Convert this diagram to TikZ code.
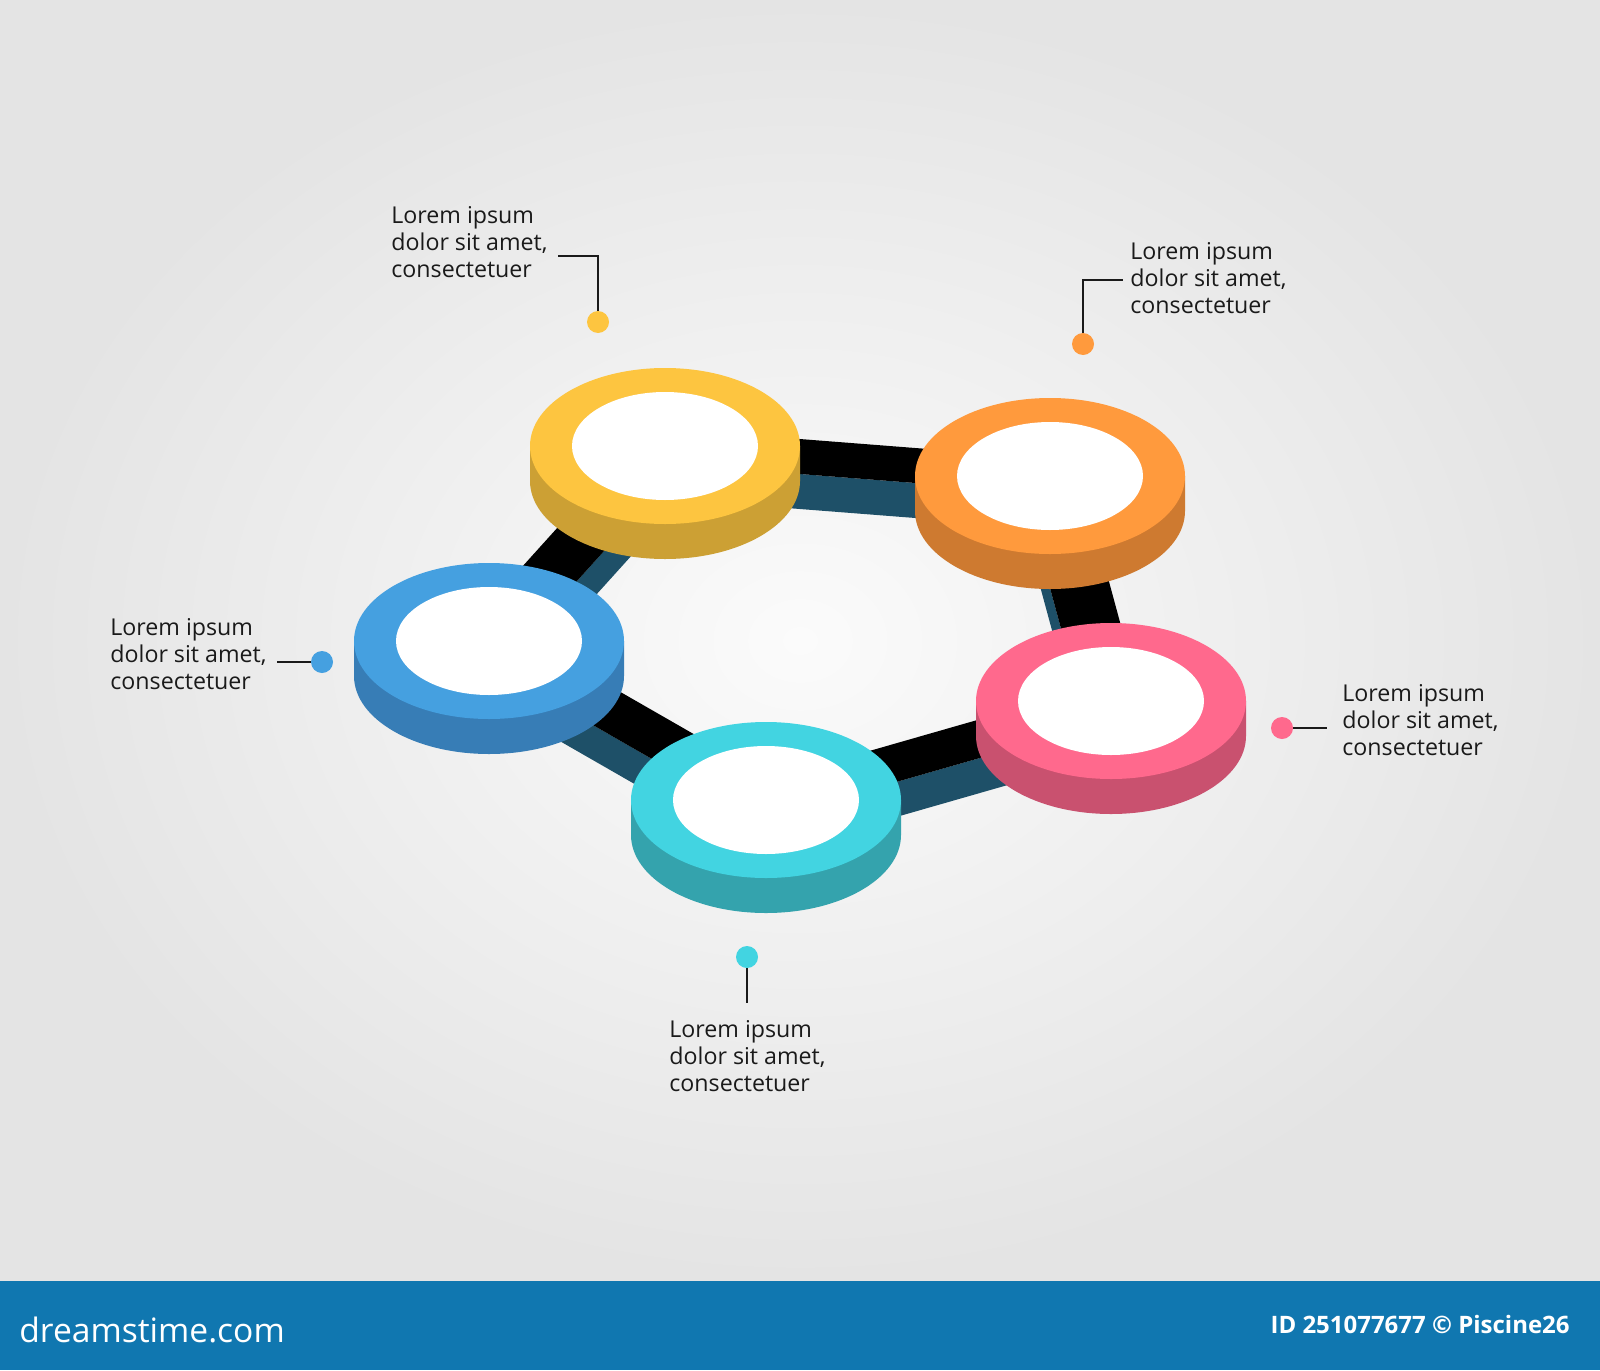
\documentclass[tikz,border=0pt]{standalone}
\usepackage{fontspec}
\setmainfont{Open Sans}
\usetikzlibrary{calc}
\definecolor{bgcenter}{RGB}{251,251,251}
\definecolor{bgedge}{RGB}{228,228,228}
\definecolor{bannerblue}{RGB}{16,119,176}
\definecolor{yellowtop}{RGB}{253,197,64}
\definecolor{yellowside}{RGB}{204,160,52}
\definecolor{orangetop}{RGB}{255,154,61}
\definecolor{orangeside}{RGB}{206,122,48}
\definecolor{pinktop}{RGB}{255,105,141}
\definecolor{pinkside}{RGB}{201,81,111}
\definecolor{cyantop}{RGB}{66,212,225}
\definecolor{cyanside}{RGB}{52,163,173}
\definecolor{bluetop}{RGB}{69,160,224}
\definecolor{blueside}{RGB}{55,125,182}
\definecolor{barside}{RGB}{30,80,104}
\definecolor{inktext}{RGB}{26,26,26}
% disc with side wall: centre, top colour, side colour
\newcommand{\puck}[3]{%
  \fill[#3] ([xshift=-67.5pt]#1) -- ([xshift=-67.5pt,yshift=-17.5pt]#1)
    arc[start angle=180, end angle=360, x radius=67.5pt, y radius=39pt]
    -- ([xshift=67.5pt]#1) -- cycle;
  \fill[#2] (#1) ellipse [x radius=67.5pt, y radius=39pt];
  \fill[white] (#1) ellipse [x radius=46.5pt, y radius=27pt];
}
% flat bar between two discs, front side on the right of #1 -> #2
\newcommand{\linkbar}[2]{%
  \path let \p1=(#1), \p2=(#2),
    \n1={veclen(\x2-\x1,(\y2-\y1)/0.578)},
    \p3=({(\y2-\y1)/0.578/\n1*15pt},{-(\x2-\x1)/\n1*15pt*0.578})
    in (\x1+\x3,\y1+\y3) coordinate (#1#2fa)
       (\x2+\x3,\y2+\y3) coordinate (#1#2fb)
       (\x1-\x3,\y1-\y3) coordinate (#1#2ba)
       (\x2-\x3,\y2-\y3) coordinate (#1#2bb);
  \fill[barside] (#1#2fa) -- (#1#2fb) -- ([yshift=-17.5pt]#1#2fb) -- ([yshift=-17.5pt]#1#2fa) -- cycle;
  \fill[black] (#1#2fa) -- (#1#2fb) -- (#1#2bb) -- (#1#2ba) -- cycle;
}

\begin{document}
\begin{tikzpicture}[
    x=0.5pt, y=-0.5pt,
    note/.style={anchor=west, align=left, inner sep=0, text=inktext, font=\fontsize{11.6}{13.6}\selectfont},
    tagdot/.style={circle, inner sep=0, minimum size=11pt},
    leader/.style={line width=1pt, inktext}
]
    \useasboundingbox (0,0) rectangle (1600,1370);
    % Background
    \shade[inner color=bgcenter, outer color=bgedge] (0,0) rectangle (1600,1281);

    % Disc centres
    \coordinate (yel) at (665,446);
    \coordinate (ora) at (1050,476);
    \coordinate (pnk) at (1111,701);
    \coordinate (cyn) at (766,800);
    \coordinate (blu) at (489,641);

    % Bars
    \linkbar{yel}{ora}
    \linkbar{ora}{pnk}
    \linkbar{cyn}{pnk}
    \linkbar{blu}{cyn}
    \linkbar{blu}{yel}

    % Discs
    \puck{yel}{yellowtop}{yellowside}
    \puck{ora}{orangetop}{orangeside}
    \puck{blu}{bluetop}{blueside}
    \puck{pnk}{pinktop}{pinkside}
    \puck{cyn}{cyantop}{cyanside}

    % Labels
    \node[note] (txtY) at (391,242) {Lorem ipsum\\dolor sit amet,\\consectetuer};
    \node[note] (txtO) at (1130,278) {Lorem ipsum\\dolor sit amet,\\consectetuer};
    \node[note] (txtB) at (110,654) {Lorem ipsum\\dolor sit amet,\\consectetuer};
    \node[note] (txtP) at (1342,720) {Lorem ipsum\\dolor sit amet,\\consectetuer};
    \node[note] (txtC) at (669,1056) {Lorem ipsum\\dolor sit amet,\\consectetuer};

    \node[tagdot, fill=yellowtop] (dotY) at (598,322) {};
    \node[tagdot, fill=orangetop] (dotO) at (1083,344) {};
    \node[tagdot, fill=bluetop] (dotB) at (322,662) {};
    \node[tagdot, fill=pinktop] (dotP) at (1282,728) {};
    \node[tagdot, fill=cyantop] (dotC) at (747,957) {};

    \coordinate (endY) at (558,256);
    \coordinate (endO) at (1123,280);
    \coordinate (endB) at (277,662);
    \coordinate (endP) at (1327,728);
    \coordinate (endC) at (747,1003);

    \draw[leader] (dotY) |- (endY);
    \draw[leader] (dotO) |- (endO);
    \draw[leader] (dotB) -- (endB);
    \draw[leader] (dotP) -- (endP);
    \draw[leader] (dotC) -- (endC);

    % Banner
    \fill[bannerblue] (0,1281) rectangle (1600,1370);
    \node[anchor=base west, inner sep=0, white, font=\fontsize{16.8}{18}\selectfont] (site) at (19,1342) {dreamstime.com};
    \node[anchor=base east, inner sep=0, white, font=\bfseries\fontsize{12}{14}\selectfont] (credit) at (1570,1333) {ID 251077677 © Piscine26};
\end{tikzpicture}
\end{document}
